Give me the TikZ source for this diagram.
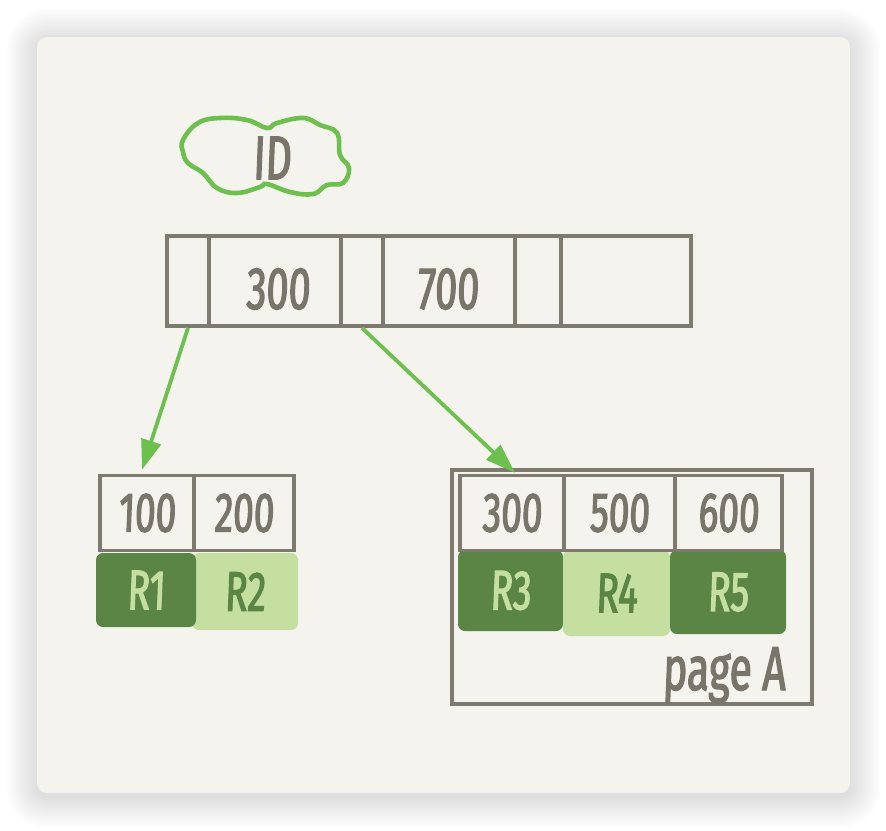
\documentclass[tikz,border=0pt]{standalone}
\usepackage{fontspec}
\usetikzlibrary{arrows.meta}
\newfontfamily\handfont[FakeStretch=0.66, FakeSlant=0.04, FakeBold=2]{Fira Sans}
\definecolor{cardbg}{HTML}{F4F3EE}
\definecolor{inkgray}{HTML}{7E7A6F}
\definecolor{txtgray}{HTML}{7A756A}
\definecolor{linegreen}{HTML}{6DC04E}
\definecolor{darkfill}{HTML}{5B8545}
\definecolor{lightfill}{HTML}{C4DFA0}
\tikzset{
  hand/.style={font=\handfont\fontsize{#1}{#1}\selectfont},
  cell/.style={draw=inkgray, line width=3.8pt, minimum width=#1, minimum height=90pt, inner sep=0pt},
  leafcell/.style={draw=inkgray, line width=3.4pt, minimum width=#1, minimum height=75pt, inner sep=0pt,
    hand=56, text=txtgray},
  rowdark/.style={fill=darkfill, rounded corners=7pt, inner sep=0pt, hand=56, text=lightfill},
  rowlight/.style={fill=lightfill, rounded corners=7pt, inner sep=0pt, hand=56, text=darkfill},
  label/.style={hand=#1, text=txtgray},
  ptr/.style={draw=linegreen, line width=3.8pt, -{Triangle[length=30pt,width=20pt]}},
}
\begin{document}
\begin{tikzpicture}[x=1pt,y=-1pt]
\useasboundingbox (0,0) rectangle (886,830);
\fill[white] (0,0) rectangle (886,830);
% shadow
\foreach \d in {1,3,...,31}{
  \fill[black, opacity=0.009, rounded corners={10+\d}] (37-\d,40-\d) rectangle (850+\d,797+\d);
}
\fill[cardbg, rounded corners=10pt] (37,37) rectangle (850,793);
% cloud
\draw[linegreen, line width=4.6pt] plot[smooth cycle, tension=0.7] coordinates {
 (183,140) (198,123) (220,118) (247,120) (267,128) (277,123) (303,118) (320,125)
 (337,133) (340,155) (349,168) (343,183) (327,185) (313,194) (290,192) (267,184)
 (260,187) (237,193) (217,188) (203,173) (188,163) (183,152)};
\node[label=62] (id) at (272,158) {ID};
% root row
\node[cell=42pt]  (c1) at (188,281) {};
\node[cell=132pt] (c2) at (275,281) {};
\node[cell=42pt]  (c3) at (362,281) {};
\node[cell=132pt] (c4) at (449,281) {};
\node[cell=46pt]  (c5) at (538,281) {};
\node[cell=130pt] (c6) at (626,281) {};
\node[label=60] (t300) at ([xshift=3pt,yshift=-8pt]c2.center) {300};
\node[label=60] (t700) at ([xshift=-1pt,yshift=-8pt]c4.center) {700};
% left leaf
\node[rowlight, minimum width=106pt, minimum height=77pt] (R2) at (245,591.5) {R2};
\node[rowdark, minimum width=100pt, minimum height=74pt] (R1) at (146,590) {R1};
\node[leafcell=94pt]  (l1) at (147,513) {100};
\node[leafcell=100pt] (l2) at (244,513) {200};
% right leaf page
\node[draw=inkgray, line width=3.4pt, minimum width=360pt, minimum height=234pt] (page) at (632,587) {};
\node[rowdark, minimum width=105pt, minimum height=81pt] (R3) at (510.5,590.5) {R3};
\node[rowlight, minimum width=107pt, minimum height=86pt] (R4) at (616.5,593) {R4};
\node[rowdark, minimum width=116pt, minimum height=84pt] (R5) at (728,592) {R5};
\node[leafcell=104pt] (r1) at (512,513) {300};
\node[leafcell=111pt] (r2) at (619.5,513) {500};
\node[leafcell=107pt] (r3) at (728.5,513) {600};
\node[label=62, anchor=base] (pa) at (724,690) {page A};
% pointers
\draw[ptr] (c1.south) -- ([xshift=-5pt,yshift=4pt]l1.north);
\draw[ptr] (c3.south) -- ([xshift=3pt,yshift=1pt]r1.north);
\end{tikzpicture}
\end{document}
